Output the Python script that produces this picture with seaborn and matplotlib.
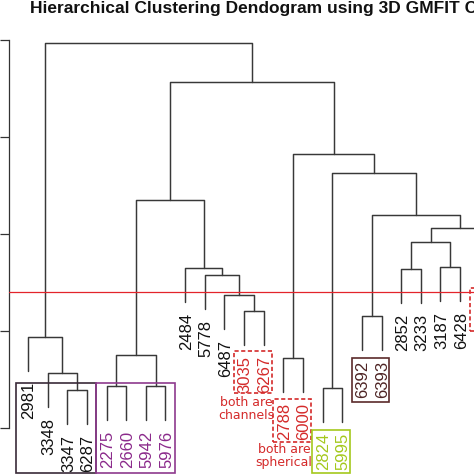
import numpy as np
import pandas as pd
import matplotlib
matplotlib.use("Agg")
import matplotlib.pyplot as plt
import seaborn as sns
from matplotlib.patches import Rectangle

# ---------------- data ----------------
leaf_labels = ["2981", "3348", "3347", "6287", "2275", "2660", "5942", "5976",
               "2484", "5778", "6487", "3035", "6267", "2788", "6000", "2824",
               "5995", "6392", "6393", "2852", "3233", "3187", "6428", "3012", "6119"]
leaf_groups = ["k", "k", "k", "k", "p", "p", "p", "p",
               "k", "k", "k", "r", "r", "r", "r", "g",
               "g", "b", "b", "k", "k", "k", "k", "r", "r"]
n = len(leaf_labels)
# merges: child indices < n are leaves, >= n are earlier merges (index - n)
merge_a = [2, 1, 0, 4, 6, n + 3, 11, 10, 9, 8, n + 5, 13, 15, 17, 19, 21,
           n + 14, 23, n + 16, n + 13, n + 12, n + 11, n + 10, n + 2]
merge_b = [3, n + 0, n + 1, 5, 7, n + 4, 12, n + 6, n + 7, n + 8, n + 9, 14, 16, 18, 20, 22,
           n + 15, 24, n + 17, n + 18, n + 19, n + 20, n + 21, n + 22]
merge_height = [0.392, 0.567, 0.938, 0.433, 0.433, 0.753, 1.206, 1.371, 1.577, 1.649,
                2.351, 0.722, 0.412, 1.155, 1.639, 1.660, 1.918, 1.835, 2.062, 2.196,
                2.629, 2.825, 3.567, 3.969]
cut_height = 1.402
y_ticks = [0, 1, 2, 3, 4]
title = "Hierarchical Clustering Dendogram using 3D GMFIT Coefficients"
notes = ["both are\nchannels", "both are\nspherical"]

# ---------------- style ----------------
sns.set_theme(style="white")
plt.rcParams["font.family"] = ["Liberation Sans", "DejaVu Sans"]

group_colors = {"k": "#111111", "p": "#8b2a8b", "r": "#d42a2a", "g": "#a4c81c", "b": "#4e2424"}
line_col = "#383838"
hang = 0.35

# ---------------- compute dendrogram geometry ----------------
node_x = {i: float(i) for i in range(n)}
node_top = {}
parent_h = {}
for k, (a, b, h) in enumerate(zip(merge_a, merge_b, merge_height)):
    node_x[n + k] = (node_x[a] + node_x[b]) / 2
    node_top[n + k] = h
    parent_h[a] = h
    parent_h[b] = h
leaf_end = [parent_h[i] - hang for i in range(n)]
for i in range(n):
    node_top[i] = leaf_end[i]

rows = []
for k, (a, b, h) in enumerate(zip(merge_a, merge_b, merge_height)):
    pts = [(node_x[a], node_top[a]), (node_x[a], h), (node_x[b], h), (node_x[b], node_top[b])]
    for j, (x, y) in enumerate(pts):
        rows.append({"seg": k, "order": j, "x": x, "y": y})
seg_df = pd.DataFrame(rows)

# ---------------- figure ----------------
W, H = 474, 474
fig = plt.figure(figsize=(W / 100, H / 100), dpi=100)
spacing = 19.64
x_lo = -(28 - 9) / spacing
x_hi = 30
ax = fig.add_axes([9 / W, 0, spacing * (x_hi - x_lo) / W, 1])
ax.set_xlim(x_lo, x_hi)
ax.set_ylim((428 - 474) / 97, 428 / 97)
visible_hi = x_lo + (W - 9) / spacing  # last data x that falls on the canvas

sns.lineplot(data=seg_df, x="x", y="y", units="seg", estimator=None, sort=False,
             color=line_col, lw=1.05, ax=ax, zorder=2)

ax.axhline(cut_height, color="#e3242b", lw=0.9, zorder=4)

for i, lab in enumerate(leaf_labels):
    if i > visible_hi:
        continue  # leaf lies beyond the cropped canvas
    ax.annotate(lab, (i, leaf_end[i]), xytext=(0.8, -8), textcoords="offset points",
                rotation=90, ha="center", va="top", fontsize=12,
                family=["Liberation Sans Narrow", "Liberation Sans"],
                color=group_colors[leaf_groups[i]], annotation_clip=False)

# group boxes: (first leaf, last leaf, top, bottom, color, dashed)
boxes = [(0, 3, 0.464, -0.464, "#3a2a38", False),
         (4, 7, 0.464, -0.464, "#8e3a8e", False),
         (11, 12, 0.794, 0.361, "#d42a2a", True),
         (13, 14, 0.299, -0.144, "#d42a2a", True),
         (15, 16, -0.021, -0.464, "#a4c81c", False),
         (17, 18, 0.722, 0.268, "#5b2a2a", False),
         (23, 24, 1.443, 1.0, "#d42a2a", True)]
for i0, i1, top, bot, col, dashed in boxes:
    x0 = i0 - 0.6 if i0 == 0 else i0 - 0.52
    x1 = i1 + 0.46 if i1 in (3, 7) else i1 + 0.4
    ax.add_patch(Rectangle((x0, bot), x1 - x0, top - bot, fill=False, edgecolor=col,
                           lw=1.2, ls=(0, (2.5, 1.5)) if dashed else "-", zorder=3))

ax.text(11.1, 0.33, notes[0], ha="center", va="top", fontsize=9, color="#d42a2a",
        family=["DejaVu Sans"], linespacing=1.0)
ax.text(13.03, -0.155, notes[1], ha="center", va="top", fontsize=9, color="#d42a2a",
        family=["DejaVu Sans"], linespacing=1.0)

for s in ["top", "right", "bottom"]:
    ax.spines[s].set_visible(False)
ax.spines["left"].set_bounds(y_ticks[0], y_ticks[-1])
ax.spines["left"].set_color("#333333")
ax.spines["left"].set_linewidth(0.9)
ax.set_yticks(y_ticks)
ax.set_xticks([])
ax.tick_params(axis="y", left=True, labelleft=False, length=6.5, width=0.9, color="#333333")
ax.set_xlabel("")
ax.set_ylabel("")

fig.text(30 / W, 1 - 13 / H, title, fontsize=12.5, fontweight="bold",
         ha="left", va="baseline", color="#111111")

fig.savefig("out.png", dpi=100)
